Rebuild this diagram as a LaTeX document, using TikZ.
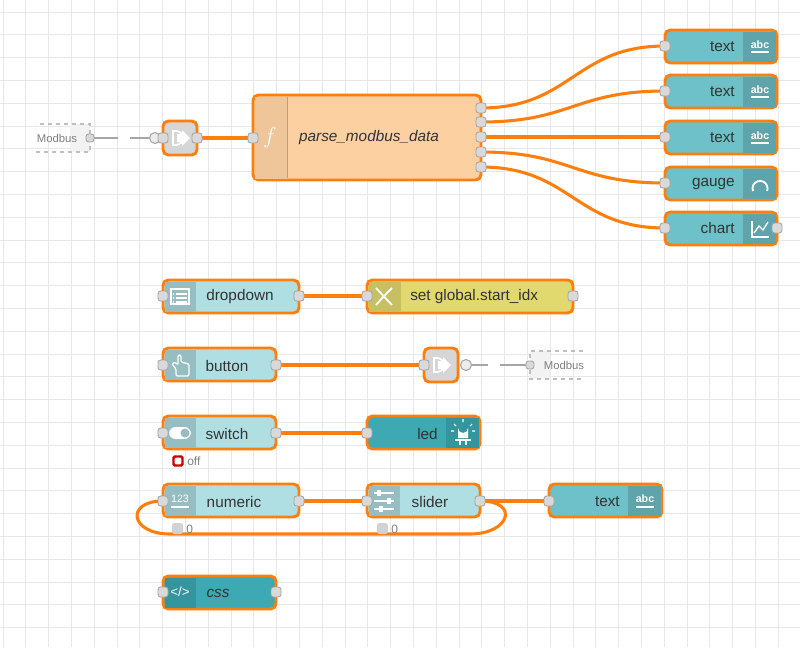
\documentclass[tikz,border=0pt]{standalone}
\usepackage{fontspec}
\setmainfont{Liberation Sans}
\usetikzlibrary{calc}
\begin{document}
\begin{tikzpicture}[x=0.75pt,y=-0.75pt,
 box/.style={draw=nrorange,line width=2.2pt,rounded corners=4pt},
 port/.style={draw=gray!70,fill=gray!30,line width=0.7pt,rounded corners=2pt},
 wire/.style={draw=nrorange,line width=2.3pt},
 gwire/.style={draw=gray!70,line width=1.3pt},
 lbl/.style={font=\fontsize{11.5}{13}\selectfont,text=black!80,inner sep=0pt},
 ico/.style={font=\fontsize{8}{9}\selectfont\bfseries,text=white,inner sep=0pt}]
\definecolor{nrorange}{HTML}{FF7F0E}
\definecolor{lt}{HTML}{B0DFE3}
\definecolor{md}{HTML}{6EC1C8}
\definecolor{dk}{HTML}{3CA9B3}
\definecolor{fn}{HTML}{FDD0A2}
\definecolor{fni}{HTML}{EFC59A}
\definecolor{chg}{HTML}{E2D96E}
\definecolor{lnk}{HTML}{D6D6D6}
\useasboundingbox (0,0) rectangle (800,647);
\fill[white] (0,0) rectangle (800,647);
\foreach \i in {0,...,35} {\draw[black!9,line width=0.75pt] (\i*22.8+3,0) -- (\i*22.8+3,647);}
\foreach \i in {0,...,28} {\draw[black!9,line width=0.75pt] (0,\i*22.8+12) -- (800,\i*22.8+12);}
% port coordinates
\coordinate (mbo) at (90,138); \coordinate (lc1) at (155,138);
\coordinate (l1o) at (197,138); \coordinate (fi) at (253,138);
\foreach \k/\y in {1/108,2/122,3/137,4/152,5/167} \coordinate (fo\k) at (481,\y);
\foreach \k/\y in {1/46,2/91,3/137,4/183,5/228} \coordinate (ti\k) at (665,\y);
\coordinate (ddo) at (299,296); \coordinate (chi) at (367,296);
\coordinate (bto) at (276,365); \coordinate (l2i) at (424,365); \coordinate (lc2) at (466,365); \coordinate (mbi) at (530,365);
\coordinate (swo) at (276,433); \coordinate (ledi) at (367,433);
\coordinate (nmi) at (163,501); \coordinate (nmo) at (299,501);
\coordinate (sli) at (367,501); \coordinate (slo) at (480,501); \coordinate (txi) at (549,501);
% wires
\draw[gwire] (mbo) -- (118,138); \draw[gwire] (130,138) -- (lc1);
\draw[gwire] (lc2) -- (488,365); \draw[gwire] (500,365) -- (mbi);
\draw[wire] (l1o) -- (fi);
\foreach \k in {1,...,5} \draw[wire] (fo\k) .. controls +(90,0) and +(-90,0) .. (ti\k);
\draw[wire] (ddo) -- (chi);
\draw[wire] (bto) -- (l2i);
\draw[wire] (swo) -- (ledi);
\draw[wire] (nmo) -- (sli);
\draw[wire] (slo) -- (txi);
\draw[wire] (slo) .. controls (520,501) and (510,534) .. (470,534) -- (170,534) .. controls (130,534) and (125,501) .. (nmi);
% Modbus link nodes (dashed)
\fill[gray!10] (70,124) rectangle (90,152);
\draw[gray!50,dashed,line width=1pt] (36,152) -- (90,152) -- (90,124) -- (36,124);
\node[lbl,font=\fontsize{8.5}{10}\selectfont,text=gray] (mb1) at (57,138) {Modbus};
\fill[gray!10] (530,351) rectangle (550,379);
\draw[gray!50,dashed,line width=1pt] (583,351) -- (530,351) -- (530,379) -- (583,379);
\node[lbl,font=\fontsize{8.5}{10}\selectfont,text=gray] (mb2) at (564,365) {Modbus};
\draw[port] (86,134) rectangle (94,142);
\draw[port] (526,361) rectangle (534,369);
\filldraw[draw=gray!70,fill=gray!15,line width=0.8pt] (lc1) circle (5.5);
\filldraw[draw=gray!70,fill=gray!15,line width=0.8pt] (lc2) circle (5.5);
% link out nodes
\foreach \n/\x/\y in {lo1/163/121,lo2/424/348} {
 \draw[box,fill=lnk] (\x,\y) rectangle ++(34,34);
 \node (\n) at (\x+17,\y+17) {};
 \draw[white,line width=1.3pt] (\x+10,\y+10) -- (\x+13,\y+10) arc(-90:90:7) -- (\x+10,\y+24) -- cycle;
 \fill[white] (\x+14,\y+13) -- (\x+19,\y+13) -- (\x+19,\y+9) -- (\x+27,\y+17) -- (\x+19,\y+25) -- (\x+19,\y+21) -- (\x+14,\y+21) -- cycle;
}
% function
\draw[box,fill=fn] (253,95) rectangle (481,180);
\fill[fni] (254.5,96.5) rectangle (287,178.5);
\draw[fni!80!black,line width=0.5pt] (287,97) -- (287,178);
\node[text=white,font=\fontsize{18}{20}\selectfont\itshape] (fic) at (270,138) {$f$};
\node[lbl,font=\fontsize{11.5}{13}\selectfont\itshape] (fnl) at (369,138) {parse\_modbus\_data};
% text widgets right
\foreach \n/\y/\t in {t1/30/text,t2/75/text,t3/121/text,t4/167/gauge,t5/212/chart} {
 \draw[box,fill=md] (665,\y) rectangle (777,\y+33);
 \fill[md!85!black] (743,\y+1.5) rectangle (775.5,\y+31.5);
 \node[lbl,anchor=east] (\n) at (735,\y+16.5) {\t};
}
\foreach \y in {30,75,121} {\node[ico] at (760,\y+15) {abc}; \draw[white,line width=1pt] (751,\y+22) -- (769,\y+22);}
\draw[white,line width=1.4pt] (753,191) arc(160:380:7.5);
\draw[white,line width=1pt] (752,221) -- (752,237) -- (769,237); \draw[white,line width=1pt] (754,233) -- (759,226) -- (763,230) -- (768,222);
% dropdown
\draw[box,fill=lt] (163,280) rectangle (299,313);
\fill[lt!85!black] (164.5,281.5) rectangle (196,311.5);
\draw[white,line width=0.9pt] (171,289) rectangle (189,304); \foreach \yy in {294,298,302} {\draw[white,line width=0.8pt] (176,\yy) -- (187,\yy); \fill[white] (173.5,\yy) circle (0.8);}
\node[lbl] (dd) at (240,297) {dropdown};
% change
\draw[box,fill=chg] (367,280) rectangle (573,313);
\fill[chg!88!black] (368.5,281.5) rectangle (401,311.5);
\draw[white,line width=1.4pt] (376,288) -- (392,305); \draw[white,line width=1.4pt] (376,305) .. controls (382,298) and (386,294) .. (392,288);
\node[lbl,anchor=west] (chl) at (410,297) {set global.start\_idx};
% button
\draw[box,fill=lt] (163,348) rectangle (276,381);
\fill[lt!85!black] (164.5,349.5) rectangle (196,379.5);
\draw[white,line width=1pt,rounded corners=1pt] (176,376) -- (176,369) -- (172,364) -- (175,362) -- (178,365) -- (178,355) -- (181,355) -- (181,362) -- (189,364) -- (189,376) -- cycle;
\node[lbl] (bt) at (227,366) {button};
% switch
\draw[box,fill=lt] (163,416) rectangle (276,449);
\fill[lt!85!black] (164.5,417.5) rectangle (196,447.5);
\fill[white,rounded corners=5pt] (169,427) rectangle (191,439); \fill[lt!85!black] (185,433) circle (4.5);
\node[lbl] (sw) at (227,434) {switch};
\draw[red!80!black,line width=1.8pt,rounded corners=1pt] (173.5,456.5) rectangle (182.5,465.5);
\node[lbl,font=\fontsize{9}{10}\selectfont,text=gray,anchor=west] (off) at (187,461) {off};
% led
\draw[box,fill=dk] (367,416) rectangle (480,449);
\fill[dk!88!black] (446,417.5) rectangle (478.5,447.5);
\node[lbl,anchor=east] (ld) at (438,434) {led};
\fill[white] (458,438) -- (458,428) arc(180:0:5) -- (468,438) -- cycle;
\draw[white,line width=0.9pt] (455,440) -- (471,440) (460,440) -- (460,445) (466,440) -- (466,445);
\draw[white,line width=0.8pt] (463,419) -- (463,422) (454,424) -- (456,426) (472,424) -- (470,426) (451,431) -- (454,431) (472,431) -- (475,431);
% numeric
\draw[box,fill=lt] (163,484) rectangle (299,517);
\fill[lt!85!black] (164.5,485.5) rectangle (196,515.5);
\node[ico,font=\fontsize{8}{9}\selectfont] at (180,499) {123}; \draw[white,line width=1pt] (171,507) -- (189,507);
\node[lbl] (nm) at (234,502) {numeric};
\fill[gray!35,rounded corners=2pt] (172,523) rectangle (183,534);
\node[lbl,font=\fontsize{9}{10}\selectfont,text=gray,anchor=west] (z1) at (186,529) {0};
% slider
\draw[box,fill=lt] (367,484) rectangle (480,517);
\fill[lt!85!black] (368.5,485.5) rectangle (400,515.5);
\foreach \yy/\xx in {493/379,501/389,509/381} {\draw[white,line width=1.2pt] (374,\yy) -- (394,\yy); \fill[white] (\xx-2,\yy-3) rectangle (\xx+2,\yy+3);}
\node[lbl] (sl) at (430,502) {slider};
\fill[gray!35,rounded corners=2pt] (377,523) rectangle (388,534);
\node[lbl,font=\fontsize{9}{10}\selectfont,text=gray,anchor=west] (z2) at (391,529) {0};
% text mid
\draw[box,fill=md] (549,484) rectangle (662,517);
\fill[md!85!black] (628,485.5) rectangle (660.5,515.5);
\node[lbl,anchor=east] (tx) at (620,502) {text};
\node[ico] at (645,499) {abc}; \draw[white,line width=1pt] (636,507) -- (654,507);
% css
\draw[box,fill=dk] (163,576) rectangle (276,609);
\fill[dk!88!black] (164.5,577.5) rectangle (196,607.5);
\node[ico,font=\fontsize{10}{11}\selectfont] at (180,592) {</>};
\node[lbl,font=\fontsize{11.5}{13}\selectfont\itshape] (cs) at (218,593) {css};
% ports
\foreach \p in {l1o,fi,fo1,fo2,fo3,fo4,fo5,ti1,ti2,ti3,ti4,ti5,ddo,chi,bto,l2i,swo,ledi,nmi,nmo,sli,slo,txi}
 \draw[port] ($(\p)+(-5,-5)$) rectangle ($(\p)+(5,5)$);
\foreach \p in {(163,138),(163,296),(573,296),(163,365),(163,433),(163,592),(276,592),(777,228)}
 \draw[port] \p ++(-5,-5) rectangle ++(10,10);
\end{tikzpicture}
\end{document}
